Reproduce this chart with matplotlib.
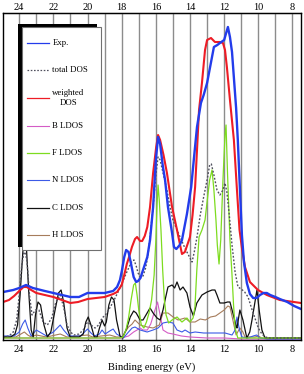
import matplotlib
matplotlib.use('Agg')
import matplotlib.pyplot as plt
import numpy as np
from matplotlib.lines import Line2D
from matplotlib.patches import Rectangle

plt.rcParams['font.family'] = ['Liberation Serif', 'DejaVu Serif']

# spectra: (binding energy eV, intensity arb. units)
exp_dos = [(24.94, 48), (24.35, 50), (24.0, 52), (23.6, 55), (23.2, 52), (22.5, 49),
           (22.0, 47), (21.5, 45), (21.0, 43), (20.5, 43), (20.0, 47), (19.5, 47),
           (19.0, 47), (18.5, 49), (18.27, 53), (18.1, 60), (17.98, 70), (17.85, 83),
           (17.74, 90), (17.6, 88), (17.45, 76), (17.3, 63), (17.15, 58), (17.04, 59),
           (16.9, 62), (16.75, 70), (16.5, 83), (16.34, 100), (16.16, 133), (16.0, 180),
           (15.87, 203), (15.75, 196), (15.6, 175), (15.46, 160), (15.29, 133),
           (15.05, 107), (14.94, 93), (14.8, 91), (14.6, 95), (14.47, 100), (14.18, 126),
           (13.93, 153), (13.75, 185), (13.59, 213), (13.36, 237), (13.2, 245),
           (13.0, 257), (12.8, 275), (12.6, 293), (12.4, 295), (12.25, 297), (12.0, 300),
           (11.9, 306), (11.78, 313), (11.66, 303), (11.54, 288), (11.42, 260),
           (11.3, 232), (11.2, 200), (11.1, 160), (10.96, 105), (10.84, 78), (10.67, 57),
           (10.49, 46), (10.3, 42), (10.1, 42), (9.9, 45), (9.7, 47), (9.5, 47), (9.3, 45),
           (9.0, 43), (8.74, 41), (8.3, 38), (7.9, 34), (7.5, 31)]

weighted_dos = [(24.94, 38), (24.6, 40), (24.3, 44), (24.0, 49), (23.75, 53), (23.55, 53),
                (23.3, 50), (23.0, 47), (22.5, 45), (22.0, 43), (21.5, 40), (21.0, 37),
                (20.55, 38), (20.0, 41), (19.5, 42), (19.0, 43), (18.5, 46), (18.27, 48),
                (18.0, 55), (17.85, 65), (17.7, 76), (17.55, 84), (17.4, 93), (17.22, 101),
                (17.1, 103), (16.92, 99), (16.8, 99), (16.65, 104), (16.5, 113), (16.34, 133),
                (16.16, 167), (15.98, 193), (15.87, 205), (15.75, 200), (15.55, 185),
                (15.35, 167), (15.05, 133), (14.76, 110), (14.58, 95), (14.47, 86), (14.3, 88),
                (14.0, 103), (13.85, 125), (13.7, 153), (13.47, 230), (13.3, 257),
                (13.12, 290), (13.0, 300), (12.77, 302), (12.54, 298), (12.25, 298),
                (12.07, 297), (11.95, 290), (11.84, 273), (11.66, 240), (11.43, 200),
                (11.25, 150), (11.1, 110), (10.96, 92), (10.78, 73), (10.49, 58), (10.02, 50),
                (9.5, 45), (8.74, 40), (7.5, 37)]

total_dos = [(24.94, 3), (24.6, 4), (24.35, 8), (24.15, 20), (24.0, 45), (23.85, 75),
             (23.7, 90), (23.55, 80), (23.4, 45), (23.25, 25), (23.05, 30), (22.85, 30),
             (22.6, 18), (22.35, 15), (22.1, 22), (21.85, 38), (21.6, 45), (21.4, 33),
             (21.2, 15), (21.0, 8), (20.8, 5), (20.5, 6), (20.25, 10), (20.0, 18), (19.8, 15),
             (19.56, 12), (19.35, 15), (19.15, 22), (18.95, 25), (18.7, 32), (18.5, 38),
             (18.3, 45), (18.1, 52), (17.9, 60), (17.7, 68), (17.51, 75), (17.39, 79),
             (17.28, 80), (17.15, 74), (17.04, 67), (16.92, 63), (16.75, 64), (16.6, 72),
             (16.46, 85), (16.34, 103), (16.16, 133), (16.0, 165), (15.87, 183), (15.75, 180),
             (15.55, 165), (15.35, 150), (15.17, 133), (15.0, 120), (14.76, 110),
             (14.58, 103), (14.3, 92), (14.0, 82), (13.88, 78), (13.75, 88), (13.59, 103),
             (13.4, 125), (13.2, 143), (13.0, 160), (12.85, 175), (12.75, 176), (12.6, 165),
             (12.42, 150), (12.25, 145), (12.07, 150), (11.95, 157), (11.84, 148),
             (11.7, 125), (11.54, 95), (11.36, 68), (11.19, 53), (11.0, 51), (10.8, 48),
             (10.6, 43), (10.4, 32), (10.2, 22), (10.0, 12), (9.79, 6), (9.6, 3), (9.3, 2),
             (8.5, 2), (7.5, 2)]

b_ldos = [(24.94, 2), (18.0, 2), (17.6, 4), (17.3, 8), (17.1, 10), (16.92, 12), (16.75, 10),
          (16.5, 10), (16.3, 16), (16.05, 30), (15.9, 38), (15.75, 25), (15.58, 10),
          (15.3, 7), (15.0, 6), (14.5, 4), (14.0, 3), (13.0, 2), (12.0, 2), (11.0, 1),
          (7.5, 1)]

f_ldos = [(24.94, 2), (18.1, 2), (17.92, 3), (17.75, 10), (17.6, 22), (17.45, 40),
          (17.3, 55), (17.2, 57), (17.1, 45), (17.0, 30), (16.85, 15), (16.7, 12),
          (16.55, 18), (16.4, 27), (16.25, 40), (16.1, 65), (16.0, 100), (15.93, 135),
          (15.87, 155), (15.8, 140), (15.7, 110), (15.6, 70), (15.5, 40), (15.4, 25),
          (15.25, 17), (15.05, 20), (14.76, 23), (14.47, 18), (14.18, 22), (14.0, 18),
          (13.82, 22), (13.71, 33), (13.6, 70), (13.47, 103), (13.3, 110), (13.12, 120),
          (13.0, 138), (12.85, 160), (12.71, 170), (12.6, 150), (12.48, 120), (12.4, 95),
          (12.3, 76), (12.2, 100), (12.07, 160), (11.95, 205), (11.89, 215), (11.8, 165),
          (11.66, 100), (11.54, 65), (11.45, 35), (11.36, 12), (11.2, 2), (10.0, 2),
          (7.5, 2)]

n_ldos = [(24.94, 4), (24.3, 4), (24.0, 8), (23.8, 16), (23.65, 20), (23.5, 12), (23.3, 4),
          (23.0, 10), (22.8, 8), (22.4, 4), (22.0, 8), (21.6, 15), (21.4, 10), (21.1, 4),
          (20.4, 4), (20.0, 11), (19.8, 7), (19.6, 4), (19.3, 6), (19.15, 10), (18.97, 6),
          (18.7, 9), (18.5, 11), (18.3, 6), (18.0, 3), (17.9, 2), (17.6, 8), (17.39, 12),
          (17.22, 13), (16.92, 10), (16.51, 8), (16.16, 10), (15.87, 12), (15.58, 17),
          (15.29, 18), (15.0, 17), (14.76, 10), (14.47, 8), (14.29, 10), (14.0, 7),
          (13.7, 8), (13.2, 7), (12.5, 7), (11.95, 7), (11.54, 5), (11.36, 10), (11.25, 23),
          (11.1, 10), (10.96, 3), (10.6, 2), (10.3, 4), (10.1, 5), (9.9, 2), (9.5, 1),
          (7.5, 1)]

c_ldos = [(24.94, 3), (24.5, 3), (24.25, 6), (24.1, 15), (23.95, 45), (23.8, 85),
          (23.7, 110), (23.6, 100), (23.45, 50), (23.3, 10), (23.18, 3), (23.05, 25),
          (22.9, 38), (22.75, 35), (22.55, 15), (22.35, 3), (22.15, 8), (21.9, 30),
          (21.7, 47), (21.55, 50), (21.4, 38), (21.2, 12), (21.02, 3), (20.5, 3),
          (20.25, 6), (20.1, 18), (19.96, 23), (19.8, 15), (19.6, 3), (19.44, 3), (19.3, 12),
          (19.15, 20), (19.0, 14), (18.9, 18), (18.75, 35), (18.6, 43), (18.45, 40),
          (18.3, 20), (18.1, 4), (17.95, 2), (17.7, 12), (17.5, 23), (17.3, 29),
          (17.15, 27), (16.92, 20), (16.75, 20), (16.51, 27), (16.34, 32), (16.16, 27),
          (15.93, 22), (15.75, 20), (15.58, 30), (15.46, 40), (15.29, 53), (15.05, 55),
          (14.9, 52), (14.76, 58), (14.58, 50), (14.41, 53), (14.18, 47), (14.0, 33),
          (13.8, 24), (13.6, 37), (13.3, 45), (13.0, 48), (12.71, 50), (12.54, 50),
          (12.42, 45), (12.25, 37), (12.0, 37), (11.8, 38), (11.66, 38), (11.49, 27),
          (11.3, 14), (11.25, 12), (11.08, 30), (10.9, 20), (10.67, 2), (10.5, 8),
          (10.37, 20), (10.08, 50), (9.95, 30), (9.79, 10), (9.61, 2), (7.5, 2)]

h_ldos = [(24.94, 3), (24.2, 3), (23.9, 6), (23.7, 8), (23.5, 5), (23.3, 3), (23.0, 5),
          (22.7, 4), (22.4, 3), (21.6, 6), (21.2, 3), (20.0, 5), (19.7, 3), (19.2, 4),
          (18.7, 5), (18.3, 3), (18.0, 3), (17.9, 5), (17.6, 13), (17.39, 16), (17.22, 20),
          (16.92, 15), (16.51, 13), (16.16, 12), (15.8, 15), (15.58, 27), (15.29, 27),
          (14.99, 23), (14.7, 20), (14.29, 22), (14.0, 18), (13.7, 18), (13.4, 21),
          (13.1, 20), (12.8, 23), (12.5, 24), (12.0, 30), (11.78, 34), (11.66, 33),
          (11.49, 20), (11.3, 5), (11.08, 12), (10.9, 8), (10.78, 3), (10.2, 3), (10.0, 4),
          (9.8, 2), (7.5, 2)]

major_ticks = [24, 22, 20, 18, 16, 14, 12, 10, 8]

W, H = 304, 374
fig = plt.figure(figsize=(W / 100, H / 100), dpi=100)
ax = fig.add_axes([3 / W, 1 - 340 / H, 298 / W, 327 / H])

# (data, colour, linewidth, linestyle, legend label)
series = [
    (h_ldos, '#a67c5b', 0.8, '-', 'H LDOS'),
    (b_ldos, '#d45cc6', 0.8, '-', 'B LDOS'),
    (n_ldos, '#3c5ae6', 0.8, '-', 'N LDOS'),
    (c_ldos, '#111111', 0.9, '-', 'C LDOS'),
    (f_ldos, '#7ddc1f', 0.9, '-', 'F LDOS'),
    (total_dos, '#50505e', 1.0, (0, (1.3, 1.3)), 'total DOS'),
    (weighted_dos, '#ee1c25', 1.5, '-', 'weighted\nDOS'),
    (exp_dos, '#233ceb', 1.7, '-', 'Exp.'),
]
for data, col, lw, ls, lab in series:
    arr = np.array(data)
    ax.plot(arr[:, 0], arr[:, 1], color=col, lw=lw, ls=ls)

ax.set_xlim(24.95, 7.5)
ax.set_ylim(0, 327)
ax.set_yticks([])
ax.set_xticks(major_ticks)
ax.set_xticks(np.arange(8, 25, 1), minor=True)
ax.grid(which='both', axis='x', color='#8c8c8c', lw=1.0)
ax.tick_params(axis='x', which='both', length=0, pad=3.5, labelsize=7.4)
for s in ax.spines.values():
    s.set_linewidth(1.0)

top = ax.secondary_xaxis('top')
top.set_xticks(major_ticks)
top.tick_params(length=0, pad=0.5, labelsize=7.4)

ax.set_xlabel('Binding energy (eV)', fontsize=7.6, labelpad=6.5)

# hand-built legend box with black shadow towards upper left
def fx(x):
    return x / W

def fy(y):
    return 1 - y / H

fig.add_artist(Rectangle((fx(18), fy(247)), 79 / W, 223 / H, transform=fig.transFigure,
                         facecolor='k', edgecolor='none', zorder=20))
fig.add_artist(Rectangle((fx(22), fy(250)), 79 / W, 223 / H, transform=fig.transFigure,
                         facecolor='white', edgecolor='#707070', lw=0.8, zorder=21))

leg_rows = {'Exp.': 42.7, 'total DOS': 70.3, 'weighted\nDOS': 97.7, 'B LDOS': 125.7,
            'F LDOS': 153.3, 'N LDOS': 180.0, 'C LDOS': 207.7, 'H LDOS': 234.7}
for data, col, lw, ls, lab in series:
    y = leg_rows[lab]
    fig.add_artist(Line2D([fx(27), fx(49)], [fy(y), fy(y)], transform=fig.transFigure,
                          color=col, lw=min(lw, 0.9), ls=ls, zorder=22))
    if '\n' in lab:
        fig.text(fx(68.5), fy(y), lab, ha='center', va='center', multialignment='center',
                 fontsize=6.3, linespacing=1.35, zorder=23)
    else:
        fig.text(fx(52.5), fy(y), lab, ha='left', va='center', fontsize=6.3, zorder=23)

fig.savefig('out.png', dpi=100)
